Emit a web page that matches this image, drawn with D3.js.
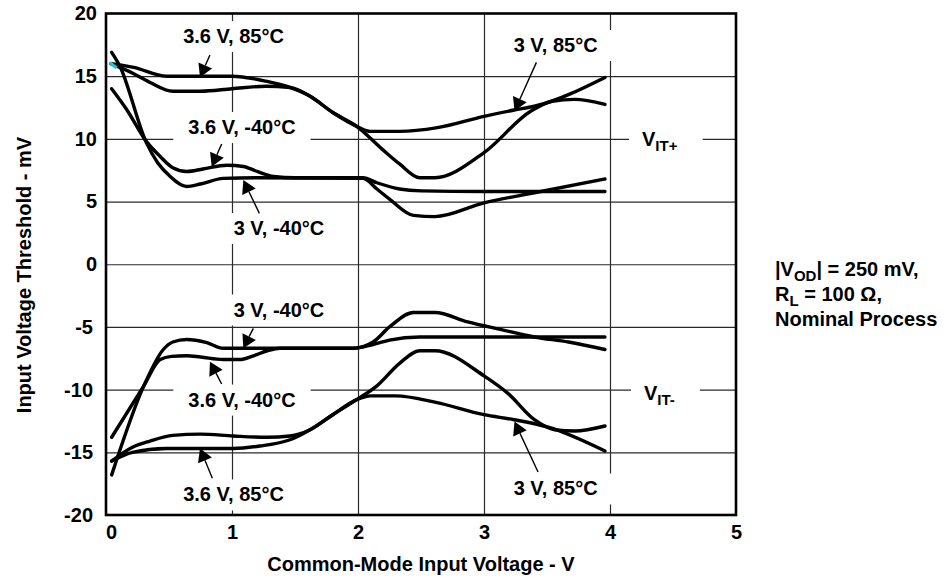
<!DOCTYPE html>
<html><head><meta charset="utf-8">
<script src="https://cdn.jsdelivr.net/npm/d3@7"></script>
<style>
body{margin:0;background:#fff}
svg text{font-family:"Liberation Sans",Arial,Helvetica,sans-serif;font-weight:bold;fill:#000}
</style></head><body>
<svg id="c" width="948" height="577"></svg>
<script>
// ---------- data ----------
const xTicks = [0, 1, 2, 3, 4, 5];
const yTicks = [-20, -15, -10, -5, 0, 5, 10, 15, 20];

// V_IT+ curves  [common-mode V, threshold mV]
const vitPos_36V_85C = [[0.04,16.0],[0.22,15.7],[0.48,15.0],[1.0,15.0],[1.27,14.6],[1.46,14.1],[1.62,13.4],[1.8,12.1],[1.99,11.0],[2.2,9.1],[2.33,8.0],[2.49,6.9],[2.61,6.9],[3.0,8.9],[3.37,12.2],[3.54,13.0],[3.72,13.15],[3.96,12.75]];
const vitPos_3V_85C  = [[0.04,16.0],[0.22,15.2],[0.35,14.5],[0.53,13.8],[0.75,13.8],[1.0,14.0],[1.27,14.2],[1.46,14.1],[1.62,13.4],[1.8,12.1],[1.99,11.0],[2.1,10.6],[2.33,10.6],[2.63,10.9],[3.0,11.8],[3.24,12.3],[3.40,12.6],[3.96,14.9]];
const vitPos_36V_m40C = [[0.045,14.0],[0.16,12.4],[0.32,9.8],[0.43,8.6],[0.53,7.7],[0.64,7.4],[0.77,7.6],[0.96,7.9],[1.09,7.8],[1.2,7.4],[1.33,7.0],[1.5,6.9],[2.04,6.9],[2.15,6.5],[2.33,6.0],[2.5,5.85],[3.0,5.8],[3.96,5.8]];
const vitPos_3V_m40C  = [[0.045,16.9],[0.11,15.8],[0.32,9.7],[0.41,8.1],[0.51,7.0],[0.64,6.2],[0.75,6.4],[0.93,6.85],[1.2,6.9],[2.04,6.85],[2.15,6.0],[2.25,5.2],[2.44,3.9],[2.61,3.8],[3.0,4.9],[3.4,5.7],[3.96,6.8]];

// V_IT- curves
const vitNeg_36V_85C = [[0.045,-15.7],[0.21,-15.0],[0.48,-14.7],[1.01,-14.7],[1.22,-14.5],[1.46,-14.0],[1.62,-13.2],[1.8,-12.0],[1.99,-10.8],[2.15,-9.7],[2.33,-7.9],[2.49,-6.9],[2.61,-6.9],[3.0,-8.9],[3.19,-10.3],[3.40,-12.4],[3.56,-13.2],[3.72,-13.3],[3.96,-12.9]];
const vitNeg_3V_85C  = [[0.045,-15.7],[0.21,-14.6],[0.35,-14.1],[0.53,-13.65],[0.75,-13.55],[1.01,-13.7],[1.28,-13.8],[1.46,-13.7],[1.62,-13.2],[1.8,-12.0],[1.99,-10.8],[2.1,-10.5],[2.3,-10.5],[2.61,-11.0],[3.0,-12.0],[3.24,-12.4],[3.51,-13.0],[3.96,-14.9]];
const vitNeg_36V_m40C = [[0.045,-13.8],[0.30,-9.7],[0.43,-7.6],[0.52,-7.35],[0.64,-7.3],[0.75,-7.4],[0.93,-7.6],[1.06,-7.6],[1.17,-7.3],[1.28,-6.9],[1.38,-6.7],[1.96,-6.7],[2.12,-6.4],[2.25,-6.05],[2.49,-5.8],[3.96,-5.8]];
const vitNeg_3V_m40C  = [[0.045,-16.8],[0.30,-9.7],[0.455,-6.8],[0.53,-6.2],[0.64,-6.0],[0.8,-6.25],[0.93,-6.7],[1.96,-6.7],[2.12,-6.2],[2.25,-5.0],[2.44,-3.85],[2.61,-3.85],[2.87,-4.6],[3.13,-5.2],[3.40,-5.8],[3.67,-6.2],[3.96,-6.8]];

// small cyan trace at the start
const cyanTrace = [[0.03,16.1],[0.085,15.65]];

const seriesBlack = [vitPos_36V_85C, vitPos_3V_85C, vitPos_36V_m40C, vitPos_3V_m40C,
                     vitNeg_36V_85C, vitNeg_3V_85C, vitNeg_36V_m40C, vitNeg_3V_m40C];

// annotations: text, label anchor (data), arrow tail -> tip (data)
const annotations = [
  {t:"3.6 V, 85°C",  at:[1.012,17.64], from:[0.825,16.69], to:[0.746,14.91]},
  {t:"3.6 V, -40°C", at:[1.079,10.39], from:[0.918,9.59],  to:[0.839,7.78]},
  {t:"3 V, -40°C",   at:[1.373,2.33],  from:[1.217,4.06],  to:[1.09,6.72]},
  {t:"3 V, 85°C",    at:[3.569,16.93], from:[3.416,16.1],  to:[3.242,12.22]},
  {t:"3 V, -40°C",   at:[1.373,-4.17], from:[1.169,-5.11], to:[1.09,-6.70]},
  {t:"3.6 V, -40°C", at:[1.079,-11.35],from:[0.918,-9.55], to:[0.825,-7.77]},
  {t:"3.6 V, 85°C",  at:[1.012,-18.92],from:[0.844,-17.07],to:[0.746,-14.68]},
  {t:"3 V, 85°C",    at:[3.569,-18.44],from:[3.429,-16.57],to:[3.242,-12.55]}
];
const vitLabels = [{main:"V", sub:"IT+", at:[4.254,9.47]}, {main:"V", sub:"IT-", at:[4.27,-10.8]}];

// ---------- chart ----------
const svg = d3.select("#c");
const m = {l:106, r:736, t:13.5, b:515};
const x = d3.scaleLinear().domain([0,5]).range([m.l, m.r]);
const y = d3.scaleLinear().domain([-20,20]).range([m.b, m.t]);
const fmt = d => String(d);   // plain hyphen-minus as in the original

const gGrid = svg.append("g");
const gBox = svg.append("g");
const gCurve = svg.append("g");
const gArrow = svg.append("g");
const gText = svg.append("g");

// grid lines
gGrid.append("g").attr("transform",`translate(0,${m.b})`)
  .call(d3.axisBottom(x).tickValues(xTicks.slice(1,-1)).tickSize(-(m.b-m.t)).tickFormat(""))
  .call(g=>g.select(".domain").remove())
  .call(g=>g.selectAll("line").attr("stroke","#2a2a2a").attr("stroke-width",1.2));
gGrid.append("g").attr("transform",`translate(${m.l},0)`)
  .call(d3.axisLeft(y).tickValues(yTicks.slice(1,-1)).tickSize(-(m.r-m.l)).tickFormat(""))
  .call(g=>g.select(".domain").remove())
  .call(g=>g.selectAll("line").attr("stroke","#2a2a2a").attr("stroke-width",1.2));

// tick labels
svg.append("g").attr("transform",`translate(0,${m.b})`)
  .call(d3.axisBottom(x).tickValues(xTicks).tickSize(0).tickPadding(10).tickFormat(fmt))
  .call(g=>g.select(".domain").remove())
  .call(g=>g.selectAll("text").attr("font-size",20).attr("font-family",null)
      .attr("dx",d=>d===0?5:0));
svg.append("g").attr("transform",`translate(${m.l},0)`)
  .call(d3.axisLeft(y).tickValues(yTicks).tickSize(0).tickPadding(9).tickFormat(fmt))
  .call(g=>g.select(".domain").remove())
  .call(g=>g.selectAll("text").attr("font-size",20).attr("font-family",null)
      .attr("dx",d=>d<0?-4:0));

// axis titles
svg.append("text").attr("x",(m.l+m.r)/2).attr("y",571).attr("text-anchor","middle")
  .attr("font-size",20).text("Common-Mode Input Voltage - V");
svg.append("text").attr("transform",`translate(31,275) rotate(-90)`).attr("text-anchor","middle")
  .attr("font-size",20).text("Input Voltage Threshold - mV");

// annotation labels with white boxes
annotations.forEach(a=>{
  const t = gText.append("text").attr("x",x(a.at[0])).attr("y",y(a.at[1]))
    .attr("text-anchor","middle").attr("font-size",20).text(a.t);
  const b = t.node().getBBox();
  gBox.append("rect").attr("x",b.x-15).attr("y",b.y-4).attr("width",b.width+30).attr("height",b.height+9).attr("fill","#fff");
  // arrow
  const x1=x(a.from[0]), y1=y(a.from[1]), x2=x(a.to[0]), y2=y(a.to[1]);
  const ang=Math.atan2(y2-y1,x2-x1), L=13, hw=7.5;
  const bx=x2-L*Math.cos(ang), by=y2-L*Math.sin(ang);
  gArrow.append("line").attr("x1",x1).attr("y1",y1).attr("x2",bx).attr("y2",by)
    .attr("stroke","#000").attr("stroke-width",1.4);
  gArrow.append("path").attr("d",`M${x2},${y2}L${bx+hw*Math.sin(ang)},${by-hw*Math.cos(ang)}L${bx-hw*Math.sin(ang)},${by+hw*Math.cos(ang)}Z`)
    .attr("fill","#000");
});

// V_IT labels
vitLabels.forEach(v=>{
  const t = gText.append("text").attr("x",x(v.at[0])).attr("y",y(v.at[1])).attr("font-size",20);
  t.append("tspan").text(v.main);
  t.append("tspan").attr("font-size",15).attr("dy",5).text(v.sub);
  const b = t.node().getBBox();
  gBox.append("rect").attr("x",b.x-13).attr("y",b.y-4).attr("width",b.width+38).attr("height",b.height+8).attr("fill","#fff");
});

// curves
const line = d3.line().x(d=>x(d[0])).y(d=>y(d[1])).curve(d3.curveMonotoneX);
gCurve.selectAll("path.s").data(seriesBlack).join("path")
  .attr("d",line).attr("fill","none").attr("stroke","#000").attr("stroke-width",3.4)
  .attr("stroke-linejoin","round").attr("stroke-linecap","round");
gCurve.append("path").datum(cyanTrace).attr("d",line).attr("fill","none")
  .attr("stroke","#22c4d8").attr("stroke-width",3.2);

// plot border
svg.append("rect").attr("x",m.l).attr("y",m.t).attr("width",m.r-m.l).attr("height",m.b-m.t)
  .attr("fill","none").attr("stroke","#000").attr("stroke-width",2.6);

// condition note
const note = svg.append("g").attr("transform",`translate(${m.r+39},0)`);
const l1 = note.append("text").attr("y",276).attr("font-size",20);
l1.append("tspan").text("|V");
l1.append("tspan").attr("font-size",15).attr("dy",5).text("OD");
l1.append("tspan").attr("dy",-5).text("| = 250 mV,");
const l2 = note.append("text").attr("y",301).attr("font-size",20);
l2.append("tspan").text("R");
l2.append("tspan").attr("font-size",15).attr("dy",5).text("L");
l2.append("tspan").attr("dy",-5).text(" = 100 Ω,");
note.append("text").attr("y",326).attr("font-size",20).text("Nominal Process");
</script>
</body></html>
